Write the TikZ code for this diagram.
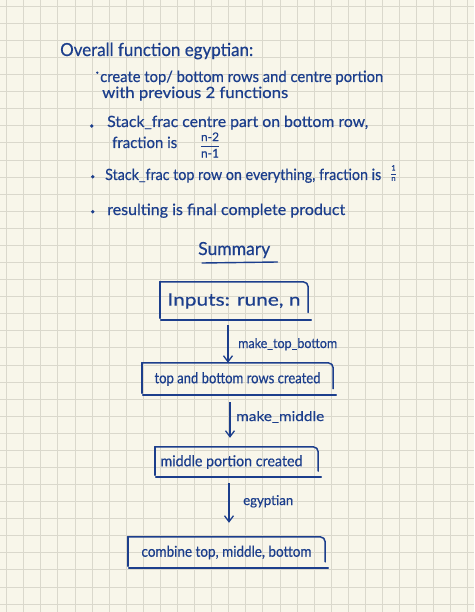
\documentclass[tikz,border=0pt]{standalone}
\usepackage{fontspec}
\usepackage{amsmath}
\setmainfont{Lato}[FakeBold=0.5]
\usetikzlibrary{arrows.meta,calc}
\definecolor{ink}{HTML}{1C3E8C}
\definecolor{paper}{HTML}{F8F6EA}
\definecolor{gridc}{HTML}{DAD8CC}
\newcommand\fw[2]{\resizebox{#1pt}{\height}{#2}}
\begin{document}
\begin{tikzpicture}[x=1pt,y=-1pt,
  txt/.style={text=ink, inner sep=0pt, anchor=base west},
  big/.style={font=\fontsize{18}{21}\selectfont},
  body/.style={font=\fontsize{15.5}{18}\selectfont},
  lbl/.style={font=\fontsize{13.5}{16}\selectfont},
  box/.style={text=ink, inner sep=0pt, font=\fontsize{15}{18}\selectfont},
  boxline/.style={draw=ink, line width=1.5pt, line cap=round, line join=round},
  arr/.style={draw=ink, line width=1.3pt, -{Straight Barb[length=6pt,width=9pt]}},
  ink line/.style={draw=ink, line width=1.4pt, line cap=round}]
\useasboundingbox (0,0) rectangle (474,612);
\fill[paper] (0,0) rectangle (474,612);
\foreach \k in {0,...,27} \draw[gridc, line width=0.9pt] ({6.7+17.08*\k},0) -- ({6.7+17.08*\k},612);
\foreach \k in {0,...,35} \draw[gridc, line width=0.9pt] (0,{6.3+17.08*\k}) -- (474,{6.3+17.08*\k});

% heading and notes
\node[txt, big] (title) at (60,56) {\fw{193}{Overall function egyptian:}};
\node[txt, body] (l1) at (100,82) {\fw{283}{create top/ bottom rows and centre portion}};
\node[txt, body] (l2) at (102,98) {\fw{186}{with previous 2 functions}};
\node[txt, body] (l3) at (107,127) {\fw{261}{Stack\_frac centre part on bottom row,}};
\node[txt, body] (l4) at (112,148) {\fw{65}{fraction is}};
\node[text=ink, inner sep=0pt, font=\fontsize{12}{13}\selectfont] (f1) at (210,145) {$\dfrac{\text{n-2}}{\text{n-1}}$};
\node[txt, body] (l5) at (105,180) {\fw{276}{Stack\_frac top row on everything, fraction is}};
\node[text=ink, inner sep=0pt, font=\fontsize{7.5}{8}\selectfont] (f2) at (393.5,173) {$\dfrac{\text{1}}{\text{n}}$};
\node[txt, body] (l6) at (107,215) {\fw{238}{resulting is final complete product}};
\fill[ink] (97.3,72.7) circle (1.3);
\fill[ink] (91.7,126) circle (1.9);
\fill[ink] (92.7,176.7) circle (1.9);
\fill[ink] (92.7,211.7) circle (1.9);

% summary
\node[txt, big] (sum) at (198,255) {\fw{72}{Summary}};
\draw[ink line] ([shift={(4,8)}]sum.base west) -- ([shift={(7,7)}]sum.base east);

% flow boxes
\node[box, minimum width=148pt, minimum height=38pt, font=\fontsize{17}{20}\selectfont] (b1) at (234,301) {\fw{133}{Inputs: rune, n}};
\node[box, minimum width=191pt, minimum height=32pt] (b2) at (237.5,379) {\fw{166}{top and bottom rows created}};
\node[box, minimum width=163pt, minimum height=30pt] (b3) at (236.5,462) {\hspace*{-10pt}\fw{142}{middle portion created}};
\node[box, minimum width=197pt, minimum height=31pt] (b4) at (226.5,552.5) {\fw{170}{combine top, middle, bottom}};
\foreach \n in {b1,b2,b3,b4}{
  \draw[boxline, rounded corners=5pt] (\n.north west) -- (\n.north east) -- ($(\n.north east)!0.8!(\n.south east)$);
  \draw[boxline] (\n.north west) -- ([yshift=2pt]\n.south west);
  \draw[boxline] ([xshift=1pt]\n.south west) -- ([xshift=3pt]\n.south east);
}

% connectors
\draw[arr] ([shift={(-6,5)}]b1.south) -- ([shift={(-9.5,0)}]b2.north);
\draw[arr] ([shift={(-7.5,7)}]b2.south) -- ([shift={(-6.5,-9)}]b3.north);
\draw[arr] ([shift={(-7.5,6)}]b3.south) -- ([shift={(2.5,-14)}]b4.north);
\node[txt, lbl] (lab1) at (238,348) {\fw{99}{make\_top\_bottom}};
\node[txt, lbl] (lab2) at (236,421) {\fw{88}{make\_middle}};
\node[txt, lbl] (lab3) at (243,505) {\fw{50}{egyptian}};
\end{tikzpicture}
\end{document}
